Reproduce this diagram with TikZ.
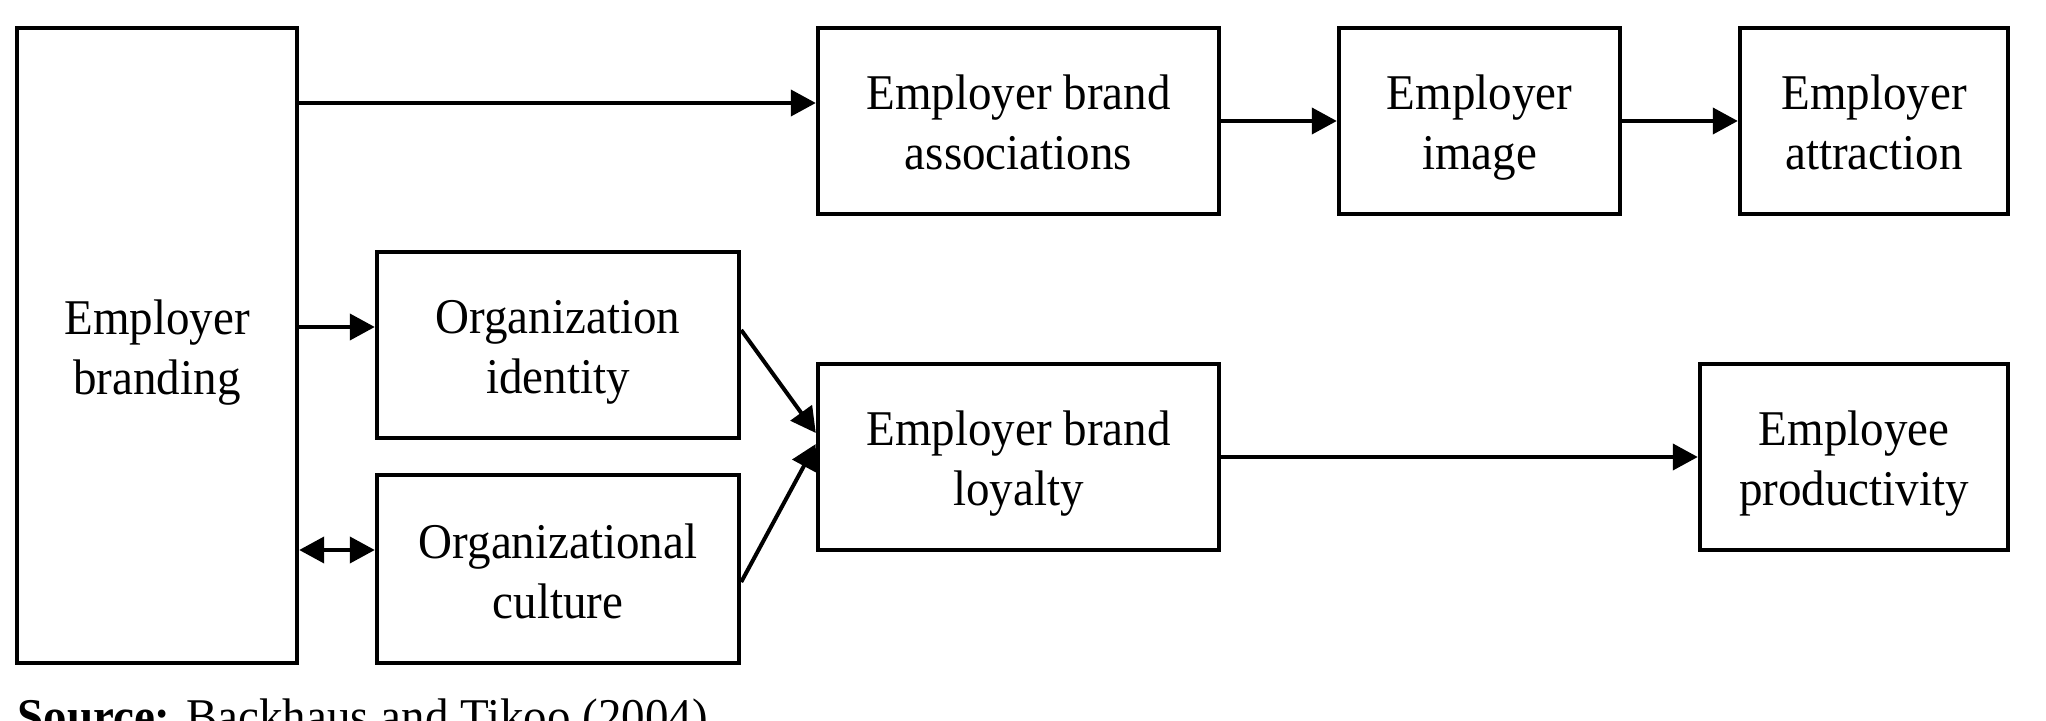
\documentclass[tikz,border=0pt]{standalone}
\usepackage{fontspec}
\setmainfont{Liberation Serif}[FakeStretch=0.94]
\usetikzlibrary{arrows.meta}
\newcommand\twoln[2]{\rule{0pt}{25pt}#1\\#2\rule[-6pt]{0pt}{6pt}}
\tikzset{
  box/.style={draw=black, line width=2.2pt, rectangle, align=center, inner sep=0pt,
    font=\fontsize{25}{30}\selectfont},
  arr/.style={line width=2pt, -{Triangle[length=12.5pt,width=13pt]}},
  darr/.style={line width=2pt, {Triangle[length=12.5pt,width=13pt]}-{Triangle[length=12.5pt,width=13pt]}},
}
\begin{document}
\begin{tikzpicture}[x=0.5pt,y=-0.5pt]
\useasboundingbox (0,0) rectangle (2046,721);
\fill[white] (0,0) rectangle (2046,721);
% nodes
\node[box, minimum width=140pt, minimum height=317.5pt] (eb) at (157,345.5) {\twoln{Employer}{branding}};
\node[box, minimum width=181pt, minimum height=93pt] (oi) at (558,345) {\twoln{Organization}{identity}};
\node[box, minimum width=181pt, minimum height=94pt] (oc) at (558,569) {\twoln{Organizational}{culture}};
\node[box, minimum width=200.5pt, minimum height=93pt] (eba) at (1018.5,121) {\twoln{Employer brand}{associations}};
\node[box, minimum width=140.5pt, minimum height=93pt] (img) at (1479.5,121) {\twoln{Employer}{image}};
\node[box, minimum width=134pt, minimum height=93pt] (att) at (1874,121) {\twoln{Employer}{attraction}};
\node[box, minimum width=200.5pt, minimum height=93pt] (ebl) at (1018.5,457) {\twoln{Employer brand}{loyalty}};
\node[box, minimum width=154pt, minimum height=93pt] (prod) at (1854,457) {\twoln{Employee}{productivity}};
% helper levels
\coordinate (ya) at (0,103);
\coordinate (yb) at (0,327);
\coordinate (yc) at (0,550);
\coordinate (yd) at (0,330);
\coordinate (ye) at (0,433);
\coordinate (yf) at (0,582);
\coordinate (yg) at (0,444);
% connectors
\draw[arr] (eb.east |- ya) -- (eba.west |- ya);
\draw[arr] (eba.east) -- (img.west);
\draw[arr] (img.east) -- (att.west);
\draw[arr] (eb.east |- yb) -- (oi.west |- yb);
\draw[darr] (eb.east |- yc) -- (oc.west |- yc);
\draw[arr] (oi.east |- yd) -- (ebl.west |- ye);
\draw[arr] (oc.east |- yf) -- (ebl.west |- yg);
\draw[arr] (ebl.east) -- (prod.west);
% source
\node[anchor=base west, inner sep=0pt, font=\fontsize{25}{30}\selectfont] (src) at (17,733) {\textbf{Source:} Backhaus and Tikoo (2004)};
\end{tikzpicture}
\end{document}
